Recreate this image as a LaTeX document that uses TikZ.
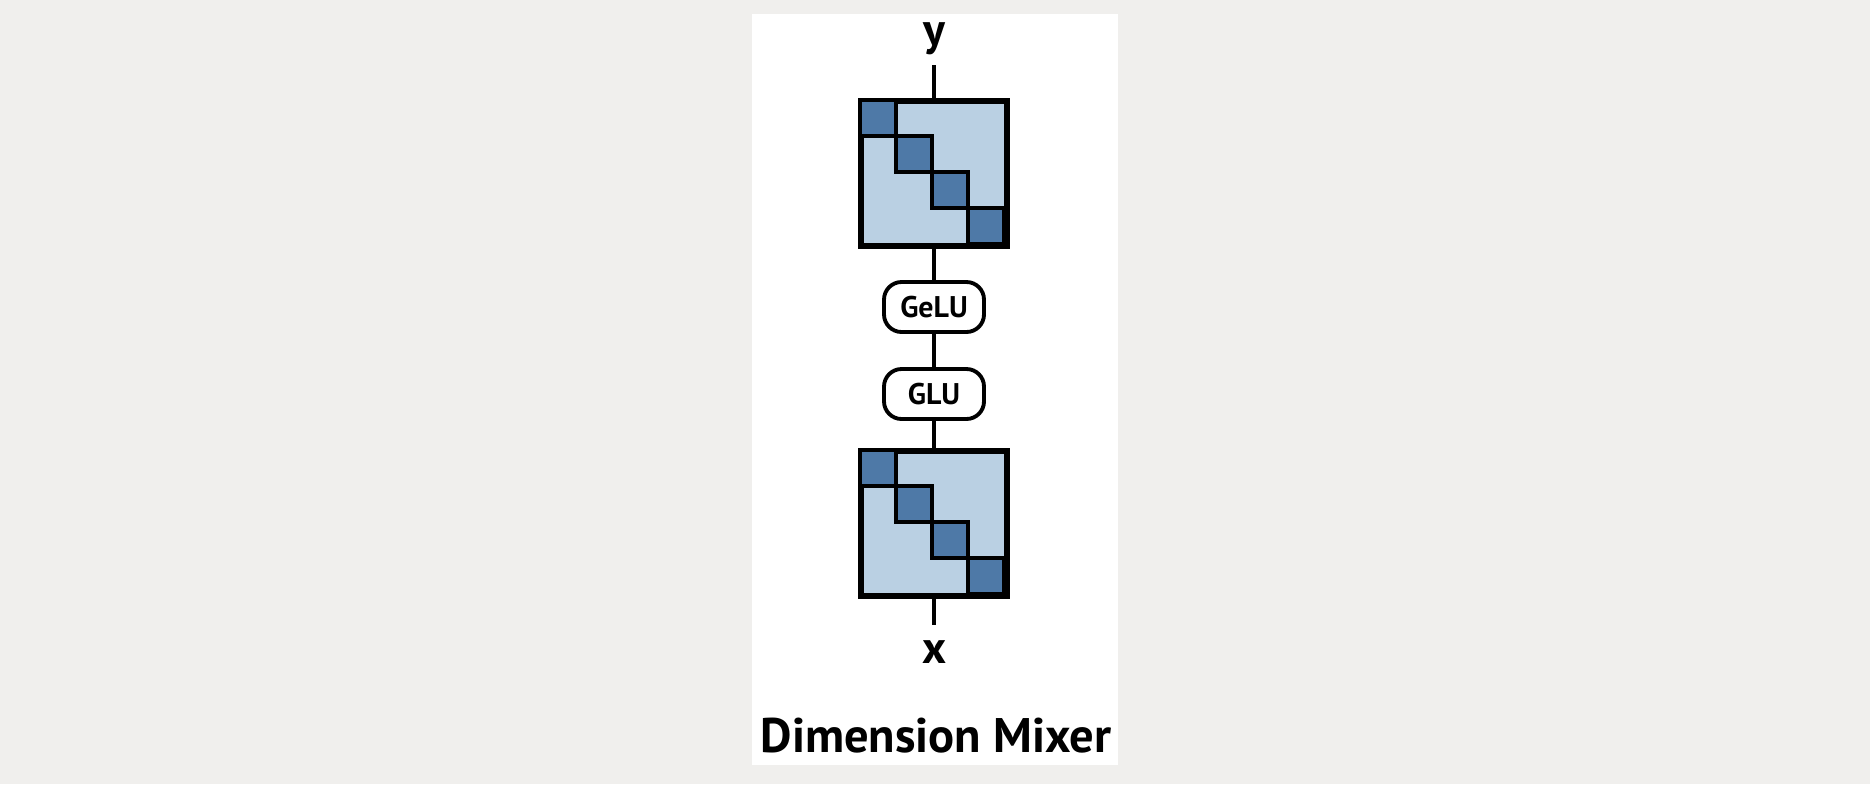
\documentclass[tikz,border=0pt]{standalone}
\usepackage{fontspec}
\setmainfont{PT Sans}
\usetikzlibrary{calc}
\begin{document}
\begin{tikzpicture}[x=0.01cm,y=-0.01cm,
  dark/.style={fill=dkblue,draw=black,line width=1.1pt},
  frame/.style={fill=ltblue,draw=black,line width=1.2pt},
  op/.style={draw=black,line width=1.1pt,rounded corners=5pt,fill=white,minimum width=100*0.01cm,minimum height=50*0.01cm,inner sep=0pt,font=\bfseries\fontsize{8.5}{10}\selectfont},
  lbl/.style={font=\bfseries\fontsize{13}{15}\selectfont,inner sep=0pt},
  conn/.style={line width=1.2pt}]
\definecolor{dkblue}{HTML}{4E79A7}
\definecolor{ltblue}{HTML}{BAD0E3}
\definecolor{bg}{HTML}{F0EFED}
\useasboundingbox (0,0) rectangle (1870,784);
\fill[bg] (0,0) rectangle (1870,784);
\fill[white] (752,14) rectangle (1118,765);
\newcommand{\blockmat}[2]{%
  \node[frame,minimum width=144*0.01cm,minimum height=143*0.01cm,inner sep=0pt] (#1) at (934,#2) {};
  \foreach \i in {0,1,2,3}{
    \draw[dark] ($(#1.north west)+(36*\i,36*\i)$) rectangle ++(36,36);
  }
  \draw[line width=1.2pt] (#1.north west) rectangle (#1.south east);
}
\blockmat{top}{173.5}
\blockmat{bot}{523.5}
\node[op] (gelu) at (934,307) {GeLU};
\node[op] (glu) at (934,394) {GLU};
\node[lbl,anchor=base] (y) at (934,45) {y};
\node[lbl,anchor=base] (x) at (934,663) {x};
\coordinate (ye) at (934,65);
\coordinate (xe) at (934,625);
\node[font=\bfseries\fontsize{13.8}{16}\selectfont,inner sep=0pt,anchor=base] (title) at (936,752) {Dimension Mixer};
\draw[conn] (ye) -- (top.north);
\draw[conn] (top.south) -- (gelu.north);
\draw[conn] (gelu.south) -- (glu.north);
\draw[conn] (glu.south) -- (bot.north);
\draw[conn] (bot.south) -- (xe);
\end{tikzpicture}
\end{document}
